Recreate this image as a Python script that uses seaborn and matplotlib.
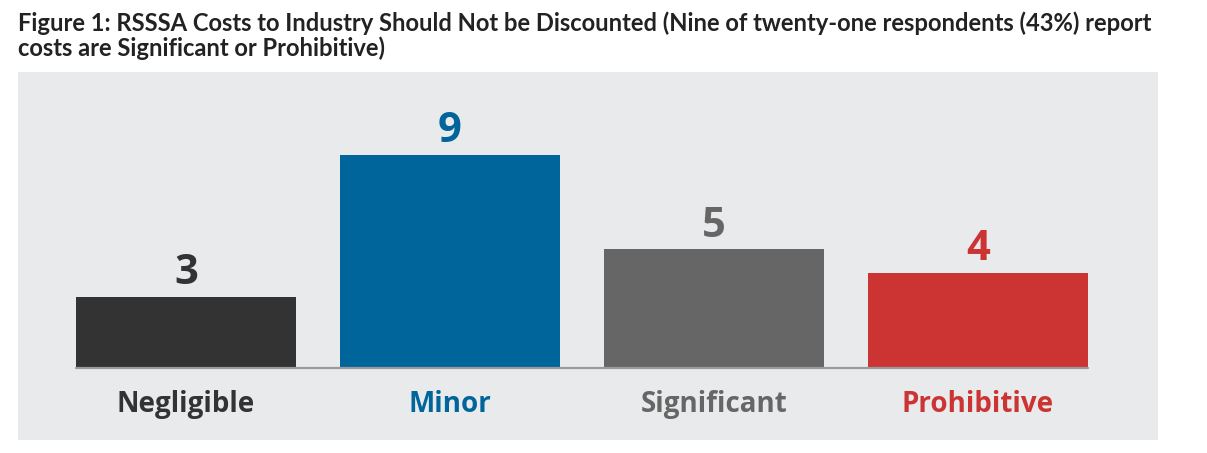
import matplotlib
matplotlib.use("Agg")
import matplotlib.pyplot as plt
import seaborn as sns
import pandas as pd

categories = ["Negligible", "Minor", "Significant", "Prohibitive"]
values = [3, 9, 5, 4]
colors = ["#333333", "#00659a", "#666666", "#cc3333"]
title = ("Figure 1: RSSSA Costs to Industry Should Not be Discounted (Nine of twenty-one respondents (43%) report\n"
         "costs are Significant or Prohibitive)")

df = pd.DataFrame({"category": categories, "value": values})

sns.set_theme(style="white")
plt.rcParams["font.family"] = ["Open Sans", "DejaVu Sans"]

W, H = 1207, 453
fig = plt.figure(figsize=(W / 100, H / 100), dpi=100)
fig.patch.set_facecolor("white")

# panel area in pixels
x0, x1, y0, y1 = 18, 1158, 72, 440
ax = fig.add_axes([x0 / W, 1 - y1 / H, (x1 - x0) / W, (y1 - y0) / H])
ax.set_facecolor("#e9eaec")

sns.barplot(data=df, x="category", y="value", hue="category",
            palette=colors, width=0.833, dodge=False, legend=False,
            saturation=1, linewidth=0, edgecolor="none", ax=ax)

ax.set_xlim(-0.636, 3.682)
ax.set_ylim(-3.04, 12.49)
ax.axhline(0, xmin=(-0.4165 + 0.636) / (3.682 + 0.636), xmax=(3.4165 + 0.636) / (3.682 + 0.636),
           color="#9a9a9a", lw=1.6, zorder=3)

for i, (cat, v, c) in enumerate(zip(categories, values, colors)):
    ax.text(i, v + 0.98, str(v), ha="center", va="center", fontsize=30,
            fontweight="bold", color=c)
    ax.text(i, -1.56, cat, ha="center", va="center", fontsize=20,
            fontweight="bold", color=c)

ax.set_xticks([])
ax.set_yticks([])
ax.set_xlabel("")
ax.set_ylabel("")
for s in ax.spines.values():
    s.set_visible(False)

fig.text(18 / W, 1 - 11 / H, title, ha="left", va="top", fontsize=17.1,
         fontweight="bold", color="#222222", family=["Lato", "DejaVu Sans"],
         linespacing=1.08)

fig.savefig("out.png", dpi=100, facecolor="white")
